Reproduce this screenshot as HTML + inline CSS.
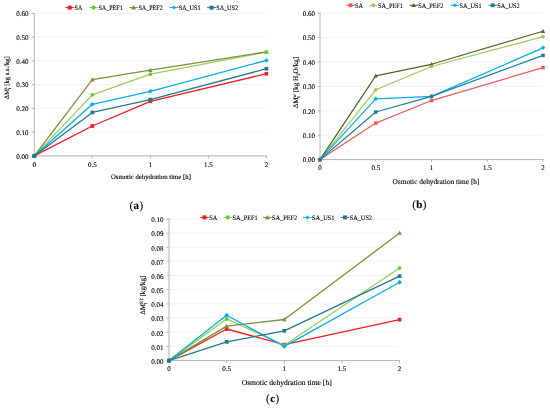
<!DOCTYPE html>
<html><head><meta charset="utf-8"><style>
html,body{margin:0;padding:0;background:#fff;}
body{width:550px;height:408px;overflow:hidden;}
svg{display:block;text-rendering:geometricPrecision;filter:blur(0.3px);font-family:"Liberation Serif", serif;fill:#000;}
text{fill:#000;stroke:#000;stroke-width:0.12px;}
</style></head><body>
<svg width="550" height="408" viewBox="0 0 550 408">
<rect width="550" height="408" fill="#fff"/>
<line x1="34.30" y1="132.15" x2="266.40" y2="132.15" stroke="#f0f0f0" stroke-width="0.8"/>
<line x1="34.30" y1="108.40" x2="266.40" y2="108.40" stroke="#f0f0f0" stroke-width="0.8"/>
<line x1="34.30" y1="84.65" x2="266.40" y2="84.65" stroke="#f0f0f0" stroke-width="0.8"/>
<line x1="34.30" y1="60.90" x2="266.40" y2="60.90" stroke="#f0f0f0" stroke-width="0.8"/>
<line x1="34.30" y1="37.15" x2="266.40" y2="37.15" stroke="#f0f0f0" stroke-width="0.8"/>
<line x1="34.30" y1="13.40" x2="266.40" y2="13.40" stroke="#f0f0f0" stroke-width="0.8"/>
<line x1="34.30" y1="12.90" x2="34.30" y2="156.40" stroke="#b3b3b3" stroke-width="1.0"/>
<line x1="33.80" y1="155.90" x2="266.90" y2="155.90" stroke="#b3b3b3" stroke-width="1.0"/>
<line x1="31.90" y1="155.90" x2="34.30" y2="155.90" stroke="#b3b3b3" stroke-width="1.0"/>
<line x1="31.90" y1="132.15" x2="34.30" y2="132.15" stroke="#b3b3b3" stroke-width="1.0"/>
<line x1="31.90" y1="108.40" x2="34.30" y2="108.40" stroke="#b3b3b3" stroke-width="1.0"/>
<line x1="31.90" y1="84.65" x2="34.30" y2="84.65" stroke="#b3b3b3" stroke-width="1.0"/>
<line x1="31.90" y1="60.90" x2="34.30" y2="60.90" stroke="#b3b3b3" stroke-width="1.0"/>
<line x1="31.90" y1="37.15" x2="34.30" y2="37.15" stroke="#b3b3b3" stroke-width="1.0"/>
<line x1="31.90" y1="13.40" x2="34.30" y2="13.40" stroke="#b3b3b3" stroke-width="1.0"/>
<line x1="34.30" y1="155.90" x2="34.30" y2="158.30" stroke="#b3b3b3" stroke-width="1.0"/>
<line x1="92.32" y1="155.90" x2="92.32" y2="158.30" stroke="#b3b3b3" stroke-width="1.0"/>
<line x1="150.35" y1="155.90" x2="150.35" y2="158.30" stroke="#b3b3b3" stroke-width="1.0"/>
<line x1="208.38" y1="155.90" x2="208.38" y2="158.30" stroke="#b3b3b3" stroke-width="1.0"/>
<line x1="266.40" y1="155.90" x2="266.40" y2="158.30" stroke="#b3b3b3" stroke-width="1.0"/>
<text x="28.60" y="158.60" text-anchor="end" font-size="7.0">0.00</text>
<text x="28.60" y="134.85" text-anchor="end" font-size="7.0">0.10</text>
<text x="28.60" y="111.10" text-anchor="end" font-size="7.0">0.20</text>
<text x="28.60" y="87.35" text-anchor="end" font-size="7.0">0.30</text>
<text x="28.60" y="63.60" text-anchor="end" font-size="7.0">0.40</text>
<text x="28.60" y="39.85" text-anchor="end" font-size="7.0">0.50</text>
<text x="28.60" y="16.10" text-anchor="end" font-size="7.0">0.60</text>
<text x="34.30" y="166.50" text-anchor="middle" font-size="7.0">0</text>
<text x="92.32" y="166.50" text-anchor="middle" font-size="7.0">0.5</text>
<text x="150.35" y="166.50" text-anchor="middle" font-size="7.0">1</text>
<text x="208.38" y="166.50" text-anchor="middle" font-size="7.0">1.5</text>
<text x="266.40" y="166.50" text-anchor="middle" font-size="7.0">2</text>
<text x="150.90" y="179.00" text-anchor="middle" font-size="6.75">Osmotic dehydration time [h]</text>
<text transform="translate(9.40,77.80) rotate(-90)" text-anchor="middle" font-size="6.6">ΔM<tspan font-size="4.5" dy="1.5">t</tspan><tspan font-size="4.5" dx="-1.25" dy="-3.6">s</tspan><tspan dy="2.1"> [kg s.s./kg]</tspan></text>
<polyline points="34.30,155.90 92.32,125.98 150.35,101.28 266.40,73.73" fill="none" stroke="#ee1c24" stroke-width="1.3" stroke-linejoin="round"/>
<polyline points="34.30,155.90 92.32,94.86 150.35,74.20 266.40,52.11" fill="none" stroke="#9acd5a" stroke-width="1.3" stroke-linejoin="round"/>
<polyline points="34.30,155.90 92.32,79.66 150.35,70.16 266.40,51.88" fill="none" stroke="#77933c" stroke-width="1.3" stroke-linejoin="round"/>
<polyline points="34.30,155.90 92.32,104.36 150.35,91.30 266.40,60.42" fill="none" stroke="#00b0f0" stroke-width="1.3" stroke-linejoin="round"/>
<polyline points="34.30,155.90 92.32,112.44 150.35,99.61 266.40,68.74" fill="none" stroke="#22798e" stroke-width="1.3" stroke-linejoin="round"/>
<rect x="32.45" y="154.05" width="3.70" height="3.70" fill="#ee1c24"/>
<rect x="90.47" y="124.13" width="3.70" height="3.70" fill="#ee1c24"/>
<rect x="148.50" y="99.43" width="3.70" height="3.70" fill="#ee1c24"/>
<rect x="264.55" y="71.88" width="3.70" height="3.70" fill="#ee1c24"/>
<polygon points="34.30,153.59 36.61,157.63 31.99,157.63" fill="#77933c"/>
<polygon points="92.32,77.35 94.64,81.40 90.01,81.40" fill="#77933c"/>
<polygon points="150.35,67.85 152.66,71.90 148.04,71.90" fill="#77933c"/>
<polygon points="266.40,49.56 268.71,53.61 264.09,53.61" fill="#77933c"/>
<circle cx="34.30" cy="155.90" r="1.94" fill="#66cc33"/>
<circle cx="92.32" cy="94.86" r="1.94" fill="#66cc33"/>
<circle cx="150.35" cy="74.20" r="1.94" fill="#66cc33"/>
<circle cx="266.40" cy="52.11" r="1.94" fill="#66cc33"/>
<polygon points="34.30,153.50 36.70,155.90 34.30,158.31 31.89,155.90" fill="#00b0f0"/>
<polygon points="92.32,101.96 94.73,104.36 92.32,106.77 89.92,104.36" fill="#00b0f0"/>
<polygon points="150.35,88.89 152.75,91.30 150.35,93.70 147.94,91.30" fill="#00b0f0"/>
<polygon points="266.40,58.02 268.80,60.42 266.40,62.83 264.00,60.42" fill="#00b0f0"/>
<rect x="32.45" y="154.05" width="3.70" height="3.70" fill="#22798e"/>
<rect x="90.47" y="110.59" width="3.70" height="3.70" fill="#22798e"/>
<rect x="148.50" y="97.76" width="3.70" height="3.70" fill="#22798e"/>
<rect x="264.55" y="66.89" width="3.70" height="3.70" fill="#22798e"/>
<line x1="65.40" y1="7.60" x2="74.20" y2="7.60" stroke="#ee1c24" stroke-width="1.0"/>
<rect x="67.80" y="5.60" width="4.00" height="4.00" fill="#ee1c24"/>
<text transform="translate(74.60,9.90) scale(0.91,1)" font-size="6.7">SA</text>
<line x1="89.20" y1="7.60" x2="98.00" y2="7.60" stroke="#9acd5a" stroke-width="1.0"/>
<circle cx="93.60" cy="7.60" r="2.10" fill="#66cc33"/>
<text transform="translate(98.40,9.90) scale(0.91,1)" font-size="6.7">SA_PEF1</text>
<line x1="129.20" y1="7.60" x2="138.00" y2="7.60" stroke="#77933c" stroke-width="1.0"/>
<polygon points="133.60,5.10 136.10,9.47 131.10,9.47" fill="#77933c"/>
<text transform="translate(138.40,9.90) scale(0.91,1)" font-size="6.7">SA_PEF2</text>
<line x1="169.60" y1="7.60" x2="178.40" y2="7.60" stroke="#00b0f0" stroke-width="1.0"/>
<polygon points="174.00,5.52 176.08,7.60 174.00,9.68 171.92,7.60" fill="#00b0f0"/>
<text transform="translate(178.80,9.90) scale(0.91,1)" font-size="6.7">SA_US1</text>
<line x1="207.10" y1="7.60" x2="215.90" y2="7.60" stroke="#22798e" stroke-width="1.0"/>
<rect x="209.50" y="5.60" width="4.00" height="4.00" fill="#22798e"/>
<text transform="translate(216.30,9.90) scale(0.91,1)" font-size="6.7">SA_US2</text>
<text x="136.30" y="208.70" text-anchor="middle" font-size="11">(<tspan font-weight="bold" dx="0.4">a</tspan><tspan dx="0.4">)</tspan></text>
<line x1="320.00" y1="135.20" x2="543.00" y2="135.20" stroke="#f0f0f0" stroke-width="0.8"/>
<line x1="320.00" y1="110.80" x2="543.00" y2="110.80" stroke="#f0f0f0" stroke-width="0.8"/>
<line x1="320.00" y1="86.40" x2="543.00" y2="86.40" stroke="#f0f0f0" stroke-width="0.8"/>
<line x1="320.00" y1="62.00" x2="543.00" y2="62.00" stroke="#f0f0f0" stroke-width="0.8"/>
<line x1="320.00" y1="37.60" x2="543.00" y2="37.60" stroke="#f0f0f0" stroke-width="0.8"/>
<line x1="320.00" y1="13.20" x2="543.00" y2="13.20" stroke="#f0f0f0" stroke-width="0.8"/>
<line x1="320.00" y1="12.70" x2="320.00" y2="160.10" stroke="#b3b3b3" stroke-width="1.0"/>
<line x1="319.50" y1="159.60" x2="543.50" y2="159.60" stroke="#b3b3b3" stroke-width="1.0"/>
<line x1="317.60" y1="159.60" x2="320.00" y2="159.60" stroke="#b3b3b3" stroke-width="1.0"/>
<line x1="317.60" y1="135.20" x2="320.00" y2="135.20" stroke="#b3b3b3" stroke-width="1.0"/>
<line x1="317.60" y1="110.80" x2="320.00" y2="110.80" stroke="#b3b3b3" stroke-width="1.0"/>
<line x1="317.60" y1="86.40" x2="320.00" y2="86.40" stroke="#b3b3b3" stroke-width="1.0"/>
<line x1="317.60" y1="62.00" x2="320.00" y2="62.00" stroke="#b3b3b3" stroke-width="1.0"/>
<line x1="317.60" y1="37.60" x2="320.00" y2="37.60" stroke="#b3b3b3" stroke-width="1.0"/>
<line x1="317.60" y1="13.20" x2="320.00" y2="13.20" stroke="#b3b3b3" stroke-width="1.0"/>
<line x1="320.00" y1="159.60" x2="320.00" y2="162.00" stroke="#b3b3b3" stroke-width="1.0"/>
<line x1="375.75" y1="159.60" x2="375.75" y2="162.00" stroke="#b3b3b3" stroke-width="1.0"/>
<line x1="431.50" y1="159.60" x2="431.50" y2="162.00" stroke="#b3b3b3" stroke-width="1.0"/>
<line x1="487.25" y1="159.60" x2="487.25" y2="162.00" stroke="#b3b3b3" stroke-width="1.0"/>
<line x1="543.00" y1="159.60" x2="543.00" y2="162.00" stroke="#b3b3b3" stroke-width="1.0"/>
<text x="314.90" y="162.30" text-anchor="end" font-size="7.0">0.00</text>
<text x="314.90" y="137.90" text-anchor="end" font-size="7.0">0.10</text>
<text x="314.90" y="113.50" text-anchor="end" font-size="7.0">0.20</text>
<text x="314.90" y="89.10" text-anchor="end" font-size="7.0">0.30</text>
<text x="314.90" y="64.70" text-anchor="end" font-size="7.0">0.40</text>
<text x="314.90" y="40.30" text-anchor="end" font-size="7.0">0.50</text>
<text x="314.90" y="15.90" text-anchor="end" font-size="7.0">0.60</text>
<text x="320.00" y="170.00" text-anchor="middle" font-size="7.0">0</text>
<text x="375.75" y="170.00" text-anchor="middle" font-size="7.0">0.5</text>
<text x="431.50" y="170.00" text-anchor="middle" font-size="7.0">1</text>
<text x="487.25" y="170.00" text-anchor="middle" font-size="7.0">1.5</text>
<text x="543.00" y="170.00" text-anchor="middle" font-size="7.0">2</text>
<text x="436.00" y="184.00" text-anchor="middle" font-size="7.34">Osmotic dehydration time [h]</text>
<text transform="translate(298.20,82.60) rotate(-90)" text-anchor="middle" font-size="7.12">ΔM<tspan font-size="4.8" dy="1.5">t</tspan><tspan font-size="4.8" dx="-1.33" dy="-3.8">w</tspan><tspan dy="2.3"> [kg H</tspan><tspan font-size="4.8" dy="1.5">2</tspan><tspan dy="-1.5">O/kg]</tspan></text>
<polyline points="320.00,159.60 375.75,123.10 431.50,100.55 543.00,67.61" fill="none" stroke="#e85a5a" stroke-width="1.2" stroke-linejoin="round"/>
<polyline points="320.00,159.60 375.75,89.82 431.50,66.49 543.00,36.62" fill="none" stroke="#9bcb5a" stroke-width="1.2" stroke-linejoin="round"/>
<polyline points="320.00,159.60 375.75,75.91 431.50,64.29 543.00,31.26" fill="none" stroke="#4f6228" stroke-width="1.2" stroke-linejoin="round"/>
<polyline points="320.00,159.60 375.75,98.84 431.50,96.40 543.00,47.85" fill="none" stroke="#00b0f0" stroke-width="1.2" stroke-linejoin="round"/>
<polyline points="320.00,159.60 375.75,112.02 431.50,96.40 543.00,55.41" fill="none" stroke="#1f7d9c" stroke-width="1.2" stroke-linejoin="round"/>
<rect x="318.25" y="157.85" width="3.50" height="3.50" fill="#e85a5a"/>
<rect x="374.00" y="121.35" width="3.50" height="3.50" fill="#e85a5a"/>
<rect x="429.75" y="98.80" width="3.50" height="3.50" fill="#e85a5a"/>
<rect x="541.25" y="65.86" width="3.50" height="3.50" fill="#e85a5a"/>
<polygon points="320.00,157.41 322.19,161.24 317.81,161.24" fill="#4f6228"/>
<polygon points="375.75,73.72 377.94,77.55 373.56,77.55" fill="#4f6228"/>
<polygon points="431.50,62.11 433.69,65.93 429.31,65.93" fill="#4f6228"/>
<polygon points="543.00,29.07 545.19,32.90 540.81,32.90" fill="#4f6228"/>
<circle cx="320.00" cy="159.60" r="1.84" fill="#9bcb5a"/>
<circle cx="375.75" cy="89.82" r="1.84" fill="#9bcb5a"/>
<circle cx="431.50" cy="66.49" r="1.84" fill="#9bcb5a"/>
<circle cx="543.00" cy="36.62" r="1.84" fill="#9bcb5a"/>
<polygon points="320.00,157.32 322.27,159.60 320.00,161.88 317.73,159.60" fill="#00b0f0"/>
<polygon points="375.75,96.57 378.02,98.84 375.75,101.12 373.48,98.84" fill="#00b0f0"/>
<polygon points="431.50,94.13 433.77,96.40 431.50,98.68 429.23,96.40" fill="#00b0f0"/>
<polygon points="543.00,45.57 545.27,47.85 543.00,50.12 540.73,47.85" fill="#00b0f0"/>
<rect x="318.25" y="157.85" width="3.50" height="3.50" fill="#1f7d9c"/>
<rect x="374.00" y="110.27" width="3.50" height="3.50" fill="#1f7d9c"/>
<rect x="429.75" y="94.65" width="3.50" height="3.50" fill="#1f7d9c"/>
<rect x="541.25" y="53.66" width="3.50" height="3.50" fill="#1f7d9c"/>
<line x1="346.20" y1="5.30" x2="354.60" y2="5.30" stroke="#e85a5a" stroke-width="1.0"/>
<rect x="348.50" y="3.40" width="3.80" height="3.80" fill="#e85a5a"/>
<text transform="translate(355.00,7.60) scale(0.91,1)" font-size="6.9">SA</text>
<line x1="369.10" y1="5.30" x2="377.50" y2="5.30" stroke="#9bcb5a" stroke-width="1.0"/>
<circle cx="373.30" cy="5.30" r="1.99" fill="#9bcb5a"/>
<text transform="translate(377.90,7.60) scale(0.91,1)" font-size="6.9">SA_PEF1</text>
<line x1="409.40" y1="5.30" x2="417.80" y2="5.30" stroke="#4f6228" stroke-width="1.0"/>
<polygon points="413.60,2.92 415.98,7.08 411.23,7.08" fill="#4f6228"/>
<text transform="translate(418.20,7.60) scale(0.91,1)" font-size="6.9">SA_PEF2</text>
<line x1="450.60" y1="5.30" x2="459.00" y2="5.30" stroke="#00b0f0" stroke-width="1.0"/>
<polygon points="454.80,3.32 456.78,5.30 454.80,7.28 452.82,5.30" fill="#00b0f0"/>
<text transform="translate(459.40,7.60) scale(0.91,1)" font-size="6.9">SA_US1</text>
<line x1="488.50" y1="5.30" x2="496.90" y2="5.30" stroke="#1f7d9c" stroke-width="1.0"/>
<rect x="490.80" y="3.40" width="3.80" height="3.80" fill="#1f7d9c"/>
<text transform="translate(497.30,7.60) scale(0.91,1)" font-size="6.9">SA_US2</text>
<text x="419.40" y="208.20" text-anchor="middle" font-size="11">(<tspan font-weight="bold" dx="0.4">b</tspan><tspan dx="0.4">)</tspan></text>
<line x1="169.00" y1="346.43" x2="399.60" y2="346.43" stroke="#f0f0f0" stroke-width="0.8"/>
<line x1="169.00" y1="332.26" x2="399.60" y2="332.26" stroke="#f0f0f0" stroke-width="0.8"/>
<line x1="169.00" y1="318.09" x2="399.60" y2="318.09" stroke="#f0f0f0" stroke-width="0.8"/>
<line x1="169.00" y1="303.92" x2="399.60" y2="303.92" stroke="#f0f0f0" stroke-width="0.8"/>
<line x1="169.00" y1="289.75" x2="399.60" y2="289.75" stroke="#f0f0f0" stroke-width="0.8"/>
<line x1="169.00" y1="275.58" x2="399.60" y2="275.58" stroke="#f0f0f0" stroke-width="0.8"/>
<line x1="169.00" y1="261.41" x2="399.60" y2="261.41" stroke="#f0f0f0" stroke-width="0.8"/>
<line x1="169.00" y1="247.24" x2="399.60" y2="247.24" stroke="#f0f0f0" stroke-width="0.8"/>
<line x1="169.00" y1="233.07" x2="399.60" y2="233.07" stroke="#f0f0f0" stroke-width="0.8"/>
<line x1="169.00" y1="218.90" x2="399.60" y2="218.90" stroke="#f0f0f0" stroke-width="0.8"/>
<line x1="169.00" y1="218.40" x2="169.00" y2="361.10" stroke="#b3b3b3" stroke-width="1.0"/>
<line x1="168.50" y1="360.60" x2="400.10" y2="360.60" stroke="#b3b3b3" stroke-width="1.0"/>
<line x1="166.60" y1="360.60" x2="169.00" y2="360.60" stroke="#b3b3b3" stroke-width="1.0"/>
<line x1="166.60" y1="346.43" x2="169.00" y2="346.43" stroke="#b3b3b3" stroke-width="1.0"/>
<line x1="166.60" y1="332.26" x2="169.00" y2="332.26" stroke="#b3b3b3" stroke-width="1.0"/>
<line x1="166.60" y1="318.09" x2="169.00" y2="318.09" stroke="#b3b3b3" stroke-width="1.0"/>
<line x1="166.60" y1="303.92" x2="169.00" y2="303.92" stroke="#b3b3b3" stroke-width="1.0"/>
<line x1="166.60" y1="289.75" x2="169.00" y2="289.75" stroke="#b3b3b3" stroke-width="1.0"/>
<line x1="166.60" y1="275.58" x2="169.00" y2="275.58" stroke="#b3b3b3" stroke-width="1.0"/>
<line x1="166.60" y1="261.41" x2="169.00" y2="261.41" stroke="#b3b3b3" stroke-width="1.0"/>
<line x1="166.60" y1="247.24" x2="169.00" y2="247.24" stroke="#b3b3b3" stroke-width="1.0"/>
<line x1="166.60" y1="233.07" x2="169.00" y2="233.07" stroke="#b3b3b3" stroke-width="1.0"/>
<line x1="166.60" y1="218.90" x2="169.00" y2="218.90" stroke="#b3b3b3" stroke-width="1.0"/>
<line x1="169.00" y1="360.60" x2="169.00" y2="363.00" stroke="#b3b3b3" stroke-width="1.0"/>
<line x1="226.65" y1="360.60" x2="226.65" y2="363.00" stroke="#b3b3b3" stroke-width="1.0"/>
<line x1="284.30" y1="360.60" x2="284.30" y2="363.00" stroke="#b3b3b3" stroke-width="1.0"/>
<line x1="341.95" y1="360.60" x2="341.95" y2="363.00" stroke="#b3b3b3" stroke-width="1.0"/>
<line x1="399.60" y1="360.60" x2="399.60" y2="363.00" stroke="#b3b3b3" stroke-width="1.0"/>
<text x="163.40" y="363.90" text-anchor="end" font-size="7.0">0.00</text>
<text x="163.40" y="349.73" text-anchor="end" font-size="7.0">0.01</text>
<text x="163.40" y="335.56" text-anchor="end" font-size="7.0">0.02</text>
<text x="163.40" y="321.39" text-anchor="end" font-size="7.0">0.03</text>
<text x="163.40" y="307.22" text-anchor="end" font-size="7.0">0.04</text>
<text x="163.40" y="293.05" text-anchor="end" font-size="7.0">0.05</text>
<text x="163.40" y="278.88" text-anchor="end" font-size="7.0">0.06</text>
<text x="163.40" y="264.71" text-anchor="end" font-size="7.0">0.07</text>
<text x="163.40" y="250.54" text-anchor="end" font-size="7.0">0.08</text>
<text x="163.40" y="236.37" text-anchor="end" font-size="7.0">0.09</text>
<text x="163.40" y="222.20" text-anchor="end" font-size="7.0">0.10</text>
<text x="169.00" y="370.80" text-anchor="middle" font-size="7.0">0</text>
<text x="226.65" y="370.80" text-anchor="middle" font-size="7.0">0.5</text>
<text x="284.30" y="370.80" text-anchor="middle" font-size="7.0">1</text>
<text x="341.95" y="370.80" text-anchor="middle" font-size="7.0">1.5</text>
<text x="399.60" y="370.80" text-anchor="middle" font-size="7.0">2</text>
<text x="286.70" y="384.80" text-anchor="middle" font-size="7.6">Osmotic dehydration time [h]</text>
<text transform="translate(145.10,295.20) rotate(-90)" text-anchor="middle" font-size="7.1">ΔM<tspan font-size="4.8" dy="1.5">t</tspan><tspan font-size="4.8" dx="-1.33" dy="-3.8">ST</tspan><tspan dy="2.3"> [kg/kg]</tspan></text>
<polyline points="169.00,360.60 226.65,329.00 284.30,344.59 399.60,319.65" fill="none" stroke="#ee1c24" stroke-width="1.3" stroke-linejoin="round"/>
<polyline points="169.00,360.60 226.65,318.94 284.30,345.30 399.60,268.07" fill="none" stroke="#9acd5a" stroke-width="1.3" stroke-linejoin="round"/>
<polyline points="169.00,360.60 226.65,326.17 284.30,319.51 399.60,233.07" fill="none" stroke="#77933c" stroke-width="1.3" stroke-linejoin="round"/>
<polyline points="169.00,360.60 226.65,315.26 284.30,346.43 399.60,282.24" fill="none" stroke="#00b0f0" stroke-width="1.3" stroke-linejoin="round"/>
<polyline points="169.00,360.60 226.65,341.90 284.30,330.84 399.60,276.15" fill="none" stroke="#22798e" stroke-width="1.3" stroke-linejoin="round"/>
<rect x="167.15" y="358.75" width="3.70" height="3.70" fill="#ee1c24"/>
<rect x="224.80" y="327.15" width="3.70" height="3.70" fill="#ee1c24"/>
<rect x="282.45" y="342.74" width="3.70" height="3.70" fill="#ee1c24"/>
<rect x="397.75" y="317.80" width="3.70" height="3.70" fill="#ee1c24"/>
<polygon points="169.00,358.29 171.31,362.33 166.69,362.33" fill="#77933c"/>
<polygon points="226.65,323.85 228.96,327.90 224.34,327.90" fill="#77933c"/>
<polygon points="284.30,317.19 286.61,321.24 281.99,321.24" fill="#77933c"/>
<polygon points="399.60,230.76 401.91,234.80 397.29,234.80" fill="#77933c"/>
<circle cx="169.00" cy="360.60" r="1.94" fill="#66cc33"/>
<circle cx="226.65" cy="318.94" r="1.94" fill="#66cc33"/>
<circle cx="284.30" cy="345.30" r="1.94" fill="#66cc33"/>
<circle cx="399.60" cy="268.07" r="1.94" fill="#66cc33"/>
<polygon points="169.00,358.20 171.41,360.60 169.00,363.00 166.59,360.60" fill="#00b0f0"/>
<polygon points="226.65,312.85 229.06,315.26 226.65,317.66 224.25,315.26" fill="#00b0f0"/>
<polygon points="284.30,344.03 286.70,346.43 284.30,348.83 281.90,346.43" fill="#00b0f0"/>
<polygon points="399.60,279.83 402.00,282.24 399.60,284.64 397.20,282.24" fill="#00b0f0"/>
<rect x="167.15" y="358.75" width="3.70" height="3.70" fill="#22798e"/>
<rect x="224.80" y="340.05" width="3.70" height="3.70" fill="#22798e"/>
<rect x="282.45" y="328.99" width="3.70" height="3.70" fill="#22798e"/>
<rect x="397.75" y="274.30" width="3.70" height="3.70" fill="#22798e"/>
<line x1="200.20" y1="217.40" x2="208.80" y2="217.40" stroke="#ee1c24" stroke-width="1.0"/>
<rect x="202.50" y="215.40" width="4.00" height="4.00" fill="#ee1c24"/>
<text transform="translate(209.20,219.70) scale(0.91,1)" font-size="6.9">SA</text>
<line x1="223.50" y1="217.40" x2="232.10" y2="217.40" stroke="#9acd5a" stroke-width="1.0"/>
<circle cx="227.80" cy="217.40" r="2.10" fill="#66cc33"/>
<text transform="translate(232.50,219.70) scale(0.91,1)" font-size="6.9">SA_PEF1</text>
<line x1="263.10" y1="217.40" x2="271.70" y2="217.40" stroke="#77933c" stroke-width="1.0"/>
<polygon points="267.40,214.90 269.90,219.28 264.90,219.28" fill="#77933c"/>
<text transform="translate(272.10,219.70) scale(0.91,1)" font-size="6.9">SA_PEF2</text>
<line x1="303.10" y1="217.40" x2="311.70" y2="217.40" stroke="#00b0f0" stroke-width="1.0"/>
<polygon points="307.40,215.32 309.48,217.40 307.40,219.48 305.32,217.40" fill="#00b0f0"/>
<text transform="translate(312.10,219.70) scale(0.91,1)" font-size="6.9">SA_US1</text>
<line x1="340.70" y1="217.40" x2="349.30" y2="217.40" stroke="#22798e" stroke-width="1.0"/>
<rect x="343.00" y="215.40" width="4.00" height="4.00" fill="#22798e"/>
<text transform="translate(349.70,219.70) scale(0.91,1)" font-size="6.9">SA_US2</text>
<text x="272.60" y="401.70" text-anchor="middle" font-size="11">(<tspan font-weight="bold" dx="0.4">c</tspan><tspan dx="0.4">)</tspan></text>
</svg>
</body></html>
